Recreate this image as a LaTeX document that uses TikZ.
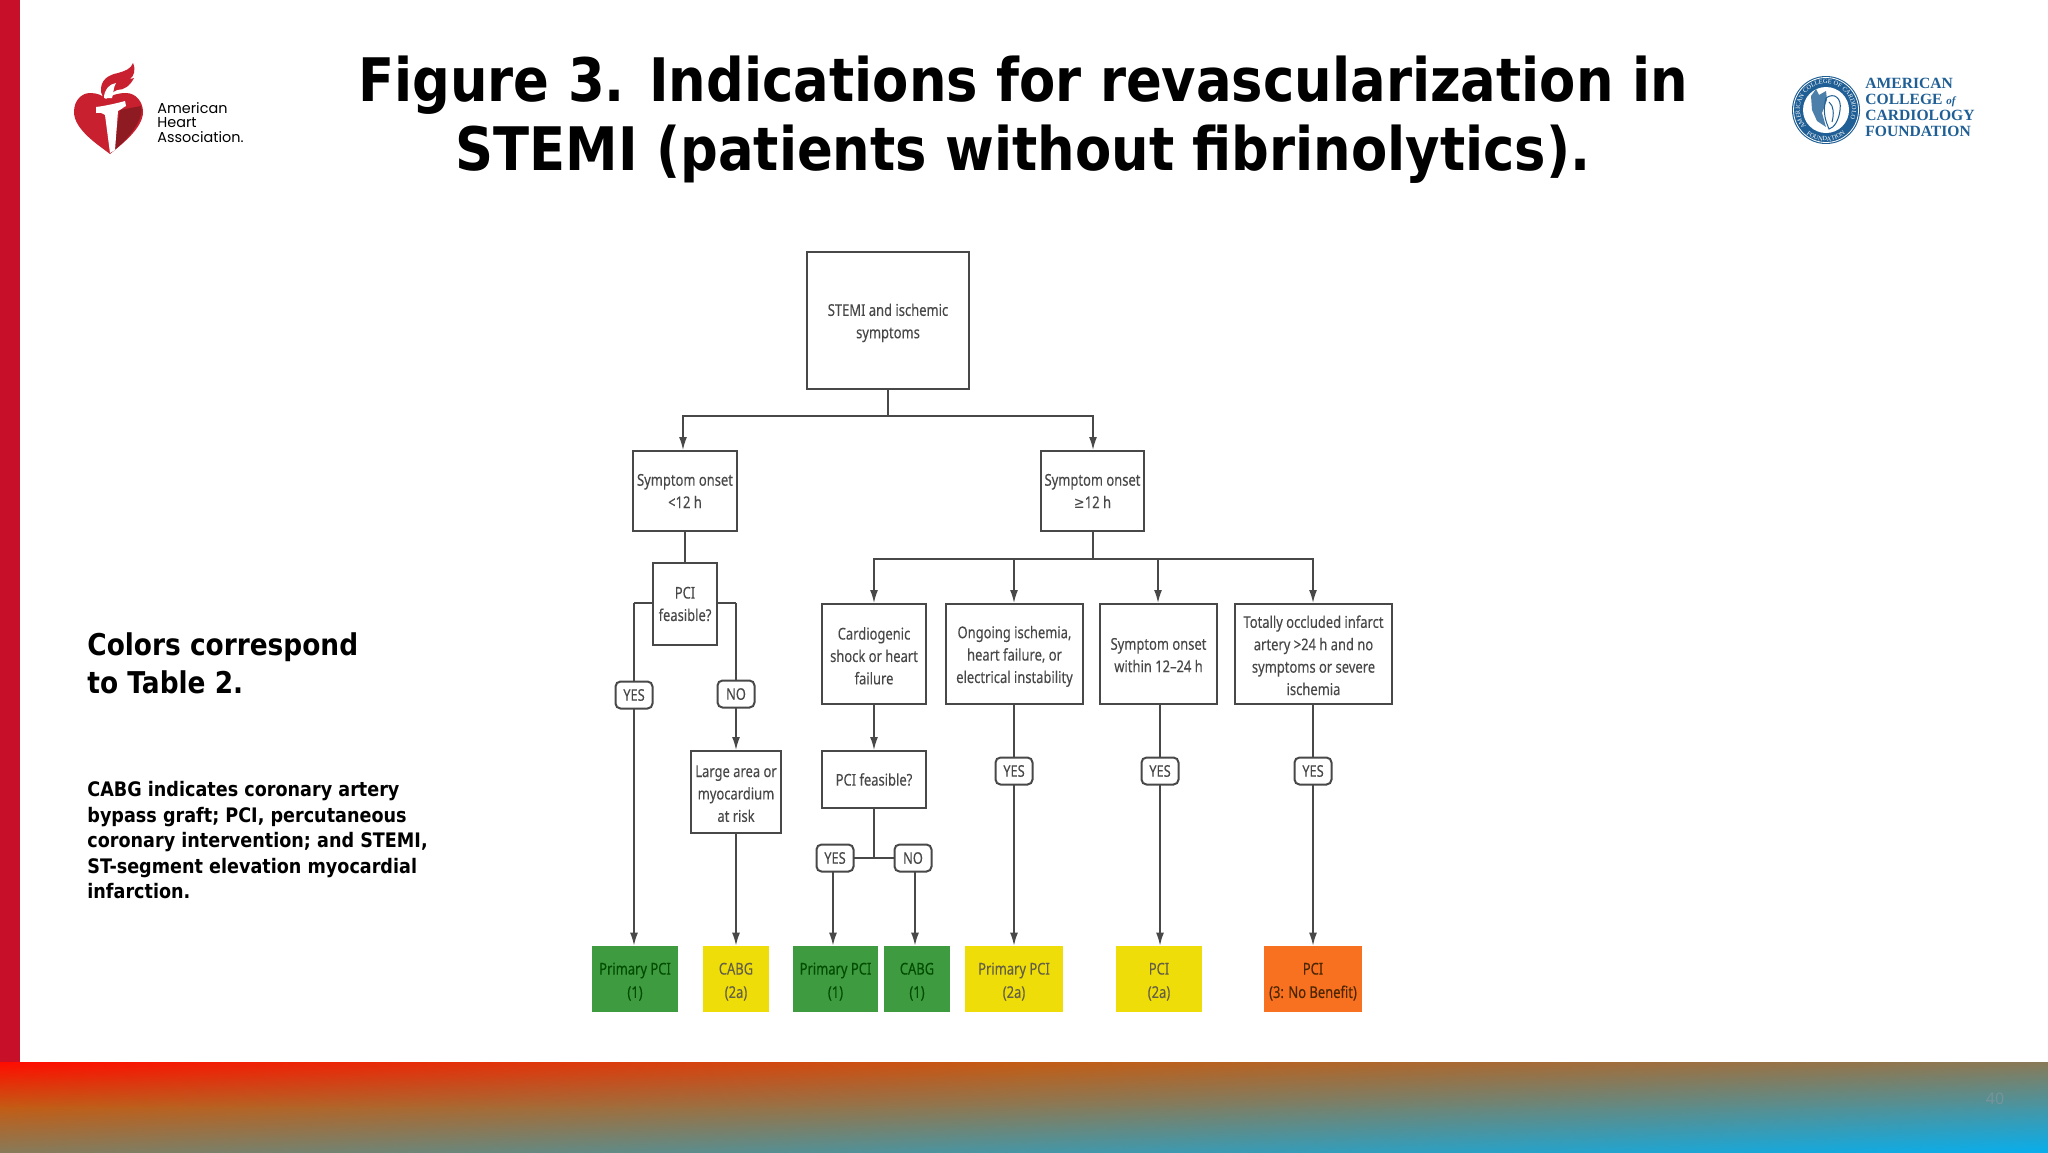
\documentclass[tikz,border=0pt]{standalone}
\usepackage{fontspec}
\usetikzlibrary{arrows.meta,decorations.text,shadings}
\setmainfont{Noto Sans}
\newfontfamily\figfont[FakeStretch=0.8,FakeBold=0.15]{Noto Sans}
\newfontfamily\symbfont[FakeStretch=0.8]{DejaVu Sans}
\newfontfamily\slidefont[FakeStretch=0.88]{DejaVu Sans}
\newfontfamily\logofont{Poppins}
\newfontfamily\accfont{Liberation Serif}
\definecolor{barred}{HTML}{C80F2A}
\definecolor{ink}{HTML}{484848}
\definecolor{fgreen}{HTML}{3E9B3F}
\definecolor{fyellow}{HTML}{EFDD0A}
\definecolor{forange}{HTML}{F77120}
\definecolor{ahared}{HTML}{C8202F}
\definecolor{ahadark}{HTML}{8E1A22}
\definecolor{accblue}{HTML}{1F5F95}
\definecolor{gradA}{RGB}{255,12,0}
\definecolor{gradQ}{RGB}{195,92,20}
\definecolor{gradB}{RGB}{136,122,88}
\definecolor{gradT}{RGB}{70,150,165}
\definecolor{gradC}{RGB}{8,174,236}
\definecolor{pagegray}{RGB}{118,148,155}
\newcommand{\boxrule}{8.5pt}
\tikzset{
  x=0.5pt,y=-0.5pt,
  qbox/.style={draw=ink,line width=1pt,fill=white,align=center,inner sep=0pt,text=ink,font=\figfont\fontsize{8.1}{11.2}\selectfont},
  ybox/.style={draw=ink,line width=1pt,fill=white,rounded corners=2.5pt,inner sep=0pt,minimum width=18.5pt,minimum height=13.5pt,font=\figfont\bfseries\fontsize{8}{9}\selectfont,text=ink},
  res/.style={align=center,inner sep=0pt,font=\figfont\fontsize{8.1}{11.7}\selectfont},
  conn/.style={draw=ink,line width=0.8pt},
  arr/.style={conn,-{Latex[length=6.5pt,width=4pt]}},
  lift/.style={execute at begin node={\renewcommand{\boxrule}{#1}}},
}
\newcommand{\boxat}[8][qbox]{%
  \node[#1,#7,minimum width=#5*0.5pt-#3*0.5pt,minimum height=#6*0.5pt-#4*0.5pt] (#2) at ({(#3+#5)/2},{(#4+#6)/2}) {\rule{0pt}{\boxrule}#8};}
\begin{document}
\begin{tikzpicture}
\useasboundingbox (0,0) rectangle (2048,1152);
\fill[white] (0,0) rectangle (2048,1152);
\fill[barred] (0,0) rectangle (20,1062);
\shade[upper left=gradA,upper right=gradQ,lower left=gradQ,lower right=gradB] (0,1062) rectangle (1025,1108);
\shade[upper left=gradQ,upper right=gradB,lower left=gradB,lower right=gradT] (1024,1062) rectangle (2048,1108);
\shade[upper left=gradQ,upper right=gradB,lower left=gradB,lower right=gradT] (0,1107) rectangle (1025,1152);
\shade[upper left=gradB,upper right=gradT,lower left=gradT,lower right=gradC] (1024,1107) rectangle (2048,1152);
\node[font=\fontsize{8}{8}\selectfont,text=pagegray] (pg) at (1995,1099) {40};
% title
\node[font=\slidefont\bfseries\fontsize{30}{34.5}\selectfont,align=center,inner sep=0pt] (title) at (1023,120) {Figure 3. Indications for revascularization in\\STEMI (patients without fibrinolytics).};
% left text
\node[anchor=north west,font=\slidefont\bfseries\fontsize{15}{19}\selectfont,align=left,inner sep=0pt] (colors) at (87,632) {Colors correspond\\to Table 2.};
\node[anchor=north west,font=\slidefont\bfseries\fontsize{10}{12.75}\selectfont,align=left,inner sep=0pt] (abbr) at (87,781) {CABG indicates coronary artery\\bypass graft; PCI, percutaneous\\coronary intervention; and STEMI,\\ST-segment elevation myocardial\\infarction.};
% AHA logo
\fill[ahared] (110,154) .. controls (100,146) and (74,130) .. (74,112) .. controls (74,100) and (82,93) .. (90,93) .. controls (97,93) and (102,95) .. (106,99) .. controls (112,95) and (118,93) .. (126,93) .. controls (136,93) and (143,102) .. (143,112) .. controls (143,128) and (122,144) .. (110,154) -- cycle;
\fill[ahadark] (120,110) -- (141,106) .. controls (145,118) and (128,140) .. (113,151) -- cycle;
\fill[ahared] (101,92) .. controls (100,80) and (108,75) .. (118,73) .. controls (125,71) and (131,69) .. (133,63) .. controls (136,70) and (134,76) .. (130,79) -- (134,78) .. controls (130,86) and (124,90) .. (117,90) .. controls (112,92) and (110,95) .. (110,99) -- (103,97) -- cycle;
\fill[white] (104,98) .. controls (104,90) and (109,84) .. (116,83) .. controls (113,88) and (114,92) .. (112,98) -- cycle;
\fill[white] (96,107) .. controls (105,106) and (118,103) .. (125,101) -- (126,106) .. controls (122,108) and (121,110) .. (118,111) -- (115,150) -- (110,153) -- (105,115) .. controls (102,113) and (99,112) .. (96,113) -- cycle;
\node[anchor=north west,inner sep=0pt,align=left,font=\logofont\fontsize{7.2}{7.25}\selectfont] (aha) at (157,102) {American\\Heart\\Association.};
% ACC logo
\fill[accblue] (1826,110) circle (34);
\fill[white] (1826,110) circle (23);
\draw[white,line width=0.4pt] (1826,110) circle (32.5);
\path[postaction={decorate,decoration={text along path,text align=center,text={|\accfont\fontsize{3.2}{3.2}\selectfont\color{white}|AMERICAN COLLEGE OF CARDIOLOGY}}}] (1802,120) arc (157:383:26);
\path[postaction={decorate,decoration={text along path,text align=center,text={|\accfont\fontsize{3.2}{3.2}\selectfont\color{white}|FOUNDATION}}}] (1799,125.5) arc (150:30:31);
\fill[accblue!80!white] (1811,96) -- (1816,89) -- (1819,95) -- (1826,91) -- (1827,100) -- (1822,113) -- (1826,127) -- (1817,121) -- (1812,110) -- cycle;
\draw[accblue,line width=0.5pt] (1826,98) .. controls (1834,92) and (1842,98) .. (1840,110) .. controls (1839,120) and (1834,128) .. (1829,129) .. controls (1826,122) and (1822,112) .. (1826,98) (1829,102) .. controls (1834,106) and (1834,114) .. (1832,122);
\node[anchor=north west,inner sep=0pt,align=left,text=accblue,font=\accfont\bfseries\fontsize{7.8}{7.95}\selectfont] (acc) at (1865,78) {AMERICAN\\COLLEGE {\itshape\fontsize{5.5}{6}\selectfont of}\\CARDIOLOGY\\FOUNDATION};
% flow nodes
\boxat{stemi}{807}{252}{969}{389}{}{STEMI and ischemic\\symptoms}
\boxat{lt}{633}{451}{737}{531}{lift=0pt}{Symptom onset\\<12 h}
\boxat{ge}{1041}{451}{1144}{531}{lift=0pt}{Symptom onset\\{\symbfont ≥}12 h}
\boxat{pcia}{653}{563}{717}{645}{lift=0pt}{PCI\\feasible?}
\boxat{large}{691}{751}{781}{833}{lift=7.5pt}{Large area or\\myocardium\\at risk}
\boxat{card}{822}{604}{926}{704}{lift=8pt}{Cardiogenic\\shock or heart\\failure}
\boxat{pcib}{822}{751}{926}{808}{lift=0pt}{PCI feasible?}
\boxat{ongo}{946}{604}{1083}{704}{}{Ongoing ischemia,\\heart failure, or\\electrical instability}
\boxat{within}{1100}{604}{1217}{704}{lift=7pt}{Symptom onset\\within 12–24 h}
\boxat{occl}{1235}{604}{1392}{704}{lift=7.5pt}{Totally occluded infarct\\artery >24 h and no\\symptoms or severe\\ischemia}
\boxat[res]{r1}{592}{946}{678}{1012}{fill=fgreen,text=green!30!black}{Primary PCI\\(1)}
\boxat[res]{r2}{703}{946}{769}{1012}{fill=fyellow,text=black!70!yellow}{CABG\\(2a)}
\boxat[res]{r3}{793}{946}{878}{1012}{fill=fgreen,text=green!30!black}{Primary PCI\\(1)}
\boxat[res]{r4}{884}{946}{950}{1012}{fill=fgreen,text=green!30!black}{CABG\\(1)}
\boxat[res]{r5}{965}{946}{1063}{1012}{fill=fyellow,text=black!70!yellow}{Primary PCI\\(2a)}
\boxat[res]{r6}{1116}{946}{1202}{1012}{fill=fyellow,text=black!70!yellow}{PCI\\(2a)}
\boxat[res]{r7}{1264}{946}{1362}{1012}{fill=forange,text=black!70!orange}{PCI\\(3: No Benefit)}
% coordinates
\coordinate (b1) at (888,416);
\coordinate (b2) at (1093,559);
\coordinate (jn) at (874,858);
\coordinate (lleft) at (634,603);
\coordinate (lright) at (736,603);
% connectors under labels
\draw[conn] (stemi.south -| b1) -- (b1);
\draw[arr] (b1) -| (lt.north -| 683,0);
\draw[arr] (b1) -| (ge.north -| b2);
\draw[conn] (lt.south -| 685,0) -- (pcia.north -| 685,0);
\draw[conn] (ge.south -| b2) -- (b2);
\draw[arr] (b2) -| (card.north);
\draw[arr] (b2) -| (ongo.north -| 1014,0);
\draw[arr] (b2) -| (within.north -| 1158,0);
\draw[arr] (b2) -| (occl.north -| 1313,0);
\draw[conn] (pcia.west |- lleft) -- (lleft);
\draw[conn] (pcia.east |- lright) -- (lright);
\draw[arr] (lleft) -- (r1.north -| lleft);
\draw[arr] (lright) -- (large.north -| lright);
\draw[arr] (large.south -| lright) -- (r2.north -| lright);
\draw[arr] (card.south -| jn) -- (pcib.north -| jn);
\draw[conn] (pcib.south -| jn) -- (jn);
\draw[conn] (833,858) -- (915,858);
\draw[arr] (833,858) -- (r3.north -| 833,0);
\draw[arr] (915,858) -- (r4.north -| 915,0);
\draw[arr] (ongo.south -| 1014,0) -- (r5.north -| 1014,0);
\draw[arr] (within.south -| 1160,0) -- (r6.north -| 1160,0);
\draw[arr] (occl.south -| 1313,0) -- (r7.north -| 1313,0);
% labels
\node[ybox] (ya) at (634,695) {YES};
\node[ybox] (na) at (736,694) {NO};
\node[ybox] (yb) at (835,858) {YES};
\node[ybox] (nb) at (913,858) {NO};
\node[ybox] (yc) at (1014,771) {YES};
\node[ybox] (yd) at (1160,771) {YES};
\node[ybox] (ye) at (1313,771) {YES};
\end{tikzpicture}
\end{document}
